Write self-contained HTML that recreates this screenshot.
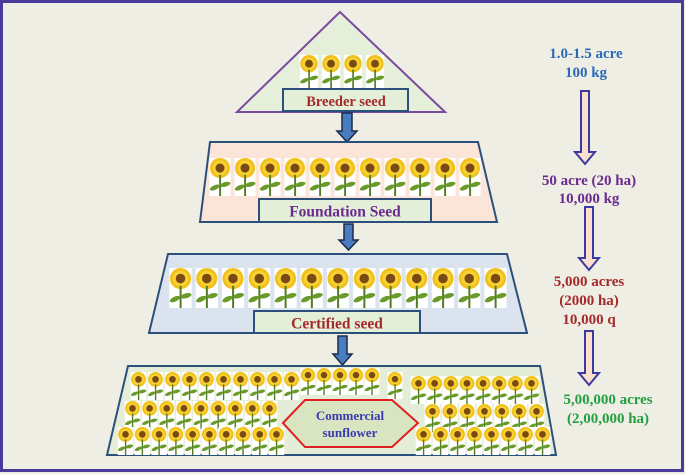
<!DOCTYPE html>
<html><head><meta charset="utf-8"><style>
html,body{margin:0;padding:0;background:#eeeee4;}
svg{display:block}
text{font-family:"Liberation Serif",serif;font-weight:bold;}
</style></head><body>
<svg id="s" width="685" height="474" viewBox="0 0 685 474" xmlns="http://www.w3.org/2000/svg">
<defs>
<symbol id="f" viewBox="0 0 20 36">
<rect x="0" y="0" width="20" height="36" fill="#fff"/>
<circle cx="10" cy="9.5" r="9.5" fill="#f2c01a"/>
<circle cx="10" cy="9.5" r="7" fill="#f7d234"/>
<circle cx="10" cy="9.5" r="4.3" fill="#7a4a12"/>
<rect x="9.2" y="16" width="1.8" height="20" fill="#4f7d22"/>
<ellipse cx="5" cy="28" rx="5" ry="2.2" fill="#6a9a2a" transform="rotate(-25 5 28)"/>
<ellipse cx="15" cy="25" rx="5" ry="2.2" fill="#6a9a2a" transform="rotate(-15 15 25)"/>
</symbol>
</defs>
<rect x="0" y="0" width="685" height="474" fill="#eeeee4"/>
<rect x="1.5" y="1.5" width="681" height="469" fill="none" stroke="#4a3a9a" stroke-width="3"/>

<polygon points="340,12 237,112 445,112" fill="#e6efd9" stroke="#7a4aa0" stroke-width="2"/>
<g id="g1"></g>
<rect x="283" y="89" width="125" height="22" fill="#e3efd9" stroke="#2d4f7c" stroke-width="2"/>
<text x="346" y="106" font-size="14.5" fill="#a52a2a" text-anchor="middle">Breeder seed</text>

<path d="M342,113 h10 v18 h5 l-10,11 l-10,-11 h5 z" fill="#4a7cc0" stroke="#1a2a4a" stroke-width="1.5"/>

<polygon points="210,142 478,142 497,222 200,222" fill="#fbe4d8" stroke="#2d4f7c" stroke-width="2"/>
<g id="g2"></g>
<rect x="259" y="199" width="172" height="23" fill="#e3efd9" stroke="#2d4f7c" stroke-width="2"/>
<text x="345" y="216.5" font-size="15.5" fill="#6a2a90" text-anchor="middle">Foundation  Seed</text>

<path d="M344,224 h9 v16 h5 l-9.5,10 l-9.5,-10 h5 z" fill="#4a7cc0" stroke="#1a2a4a" stroke-width="1.5"/>

<polygon points="168,254 507,254 527,333 149,333" fill="#dbe3ef" stroke="#2d4f7c" stroke-width="2"/>
<g id="g3"></g>
<rect x="254" y="311" width="166" height="22" fill="#e3efd9" stroke="#2d4f7c" stroke-width="2"/>
<text x="337" y="328.5" font-size="15.5" fill="#a52a2a" text-anchor="middle">Certified  seed</text>

<path d="M338,336 h9 v18 h5 l-9.5,11 l-9.5,-11 h5 z" fill="#4a7cc0" stroke="#1a2a4a" stroke-width="1.5"/>

<polygon points="128,366 540,366 556,455 107,455" fill="#e3edd8" stroke="#2d4f7c" stroke-width="2"/>
<g id="g4"></g>
<polygon points="283,423 305,400 392,400 418,423 392,447 305,447" fill="#d9e5c0" stroke="#e02020" stroke-width="2"/>
<text x="350" y="420" font-size="13" fill="#3a3ab0" text-anchor="middle">Commercial</text>
<text x="350" y="437" font-size="13" fill="#3a3ab0" text-anchor="middle">sunflower</text>

<g font-size="15" text-anchor="middle">
<text x="586" y="58" fill="#2a6ab8">1.0-1.5 acre</text>
<text x="586" y="77" fill="#2a6ab8">100 kg</text>
<text x="589" y="185" fill="#6a2a90">50 acre (20 ha)</text>
<text x="589" y="203" fill="#6a2a90">10,000 kg</text>
<text x="589" y="286" fill="#a52a2a">5,000 acres</text>
<text x="589" y="305" fill="#a52a2a">(2000 ha)</text>
<text x="589" y="324" fill="#a52a2a">10,000 q</text>
<text x="608" y="404" fill="#22a040">5,00,000 acres</text>
<text x="608" y="423" fill="#22a040">(2,00,000 ha)</text>
</g>
<g fill="#fbe0cc" stroke="#3a3aa0" stroke-width="2">
<path d="M581,91 h8 v61 h6 l-10,12 l-10,-12 h6 z"/>
<path d="M585,207 h8 v51 h6 l-10,12 l-10,-12 h6 z"/>
<path d="M585,331 h8 v42 h6 l-10,12 l-10,-12 h6 z"/>
</g>
</svg>
<script>
var NS="http://www.w3.org/2000/svg";
function row(g,x0,x1,y,n,w,h){var G=document.getElementById(g);var step=n>1?(x1-x0-w)/(n-1):0;
for(var i=0;i<n;i++){var u=document.createElementNS(NS,"use");u.setAttribute("href","#f");
u.setAttribute("x",x0+i*step);u.setAttribute("y",y);u.setAttribute("width",w);u.setAttribute("height",h);G.appendChild(u);}}
row("g1",298,386,55,4,22,33);
row("g2",208,482,158,11,24,38);
row("g3",168,508,268,13,25,40);
row("g4",130,300,372,10,17,28);
row("g4",300,380,368,5,16,27);
row("g4",387,403,372,1,16,27);
row("g4",410,540,376,8,17,28);
row("g4",124,278,401,9,17,28);
row("g4",424,545,404,7,17,28);
row("g4",117,285,427,10,17,28);
row("g4",415,551,427,8,17,28);
</script>
</body></html>
